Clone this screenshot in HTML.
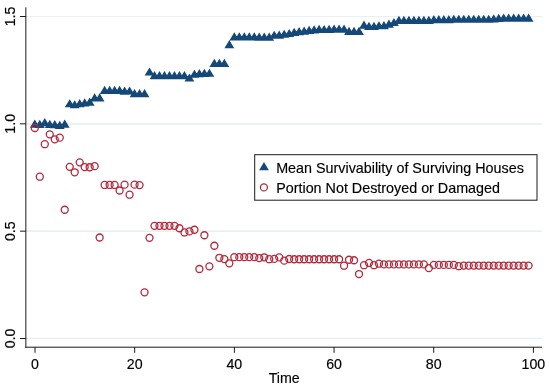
<!DOCTYPE html>
<html><head><meta charset="utf-8"><title>Graph</title>
<style>
html,body{margin:0;padding:0;background:#fff}
svg{display:block}
.t{font-family:"Liberation Sans",Arial,sans-serif;font-size:14.2px;fill:#000;stroke:#000;stroke-width:0.15px}
.lg{font-size:14.33px}
</style></head><body>
<svg width="550" height="389" viewBox="0 0 550 389">
<rect width="550" height="389" fill="#fff"/>
<line x1="26" x2="542" y1="338.50" y2="338.50" stroke="#e8f0f2" stroke-width="1.6"/>
<line x1="26" x2="542" y1="231.17" y2="231.17" stroke="#e8f0f2" stroke-width="1.6"/>
<line x1="26" x2="542" y1="123.83" y2="123.83" stroke="#e8f0f2" stroke-width="1.6"/>
<line x1="26" x2="542" y1="16.50" y2="16.50" stroke="#e8f0f2" stroke-width="1.2"/>
<path d="M29.90 127.81L39.70 127.81L34.80 119.61ZM34.89 127.92L44.69 127.92L39.79 119.72ZM39.88 126.31L49.68 126.31L44.78 118.11ZM44.86 128.03L54.66 128.03L49.76 119.83ZM49.85 128.24L59.65 128.24L54.75 120.04ZM54.84 128.99L64.64 128.99L59.74 120.79ZM59.83 127.71L69.63 127.71L64.73 119.51ZM64.82 107.33L74.62 107.33L69.72 99.13ZM69.80 108.33L79.60 108.33L74.70 100.13ZM74.79 107.13L84.59 107.13L79.69 98.93ZM79.78 106.54L89.58 106.54L84.68 98.34ZM84.77 105.74L94.57 105.74L89.67 97.54ZM89.76 101.44L99.56 101.44L94.66 93.24ZM94.74 101.44L104.54 101.44L99.64 93.24ZM99.73 94.07L109.53 94.07L104.63 85.87ZM104.72 94.07L114.52 94.07L109.62 85.87ZM109.71 94.07L119.51 94.07L114.61 85.87ZM114.70 94.07L124.50 94.07L119.60 85.87ZM119.68 94.77L129.48 94.77L124.58 86.57ZM124.67 94.62L134.47 94.62L129.57 86.42ZM129.66 97.29L139.46 97.29L134.56 89.09ZM134.65 97.29L144.45 97.29L139.55 89.09ZM139.64 97.29L149.44 97.29L144.54 89.09ZM144.62 75.58L154.42 75.58L149.52 67.38ZM149.61 79.27L159.41 79.27L154.51 71.07ZM154.60 79.27L164.40 79.27L159.50 71.07ZM159.59 79.27L169.39 79.27L164.49 71.07ZM164.58 79.27L174.38 79.27L169.48 71.07ZM169.56 79.27L179.36 79.27L174.46 71.07ZM174.55 79.27L184.35 79.27L179.45 71.07ZM179.54 79.27L189.34 79.27L184.44 71.07ZM184.53 81.60L194.33 81.60L189.43 73.40ZM189.52 77.84L199.32 77.84L194.42 69.64ZM194.50 77.14L204.30 77.14L199.40 68.94ZM199.49 76.94L209.29 76.94L204.39 68.74ZM204.48 76.84L214.28 76.84L209.38 68.64ZM209.47 67.01L219.27 67.01L214.37 58.81ZM214.46 67.01L224.26 67.01L219.36 58.81ZM219.44 67.01L229.24 67.01L224.34 58.81ZM224.43 48.30L234.23 48.30L229.33 40.10ZM229.42 40.39L239.22 40.39L234.32 32.19ZM234.41 40.39L244.21 40.39L239.31 32.19ZM239.40 40.39L249.20 40.39L244.30 32.19ZM244.38 40.39L254.18 40.39L249.28 32.19ZM249.37 40.39L259.17 40.39L254.27 32.19ZM254.36 40.82L264.16 40.82L259.26 32.62ZM259.35 40.82L269.15 40.82L264.25 32.62ZM264.34 40.74L274.14 40.74L269.24 32.54ZM269.32 38.86L279.12 38.86L274.22 30.66ZM274.31 38.66L284.11 38.66L279.21 30.46ZM279.30 37.84L289.10 37.84L284.20 29.64ZM284.29 37.09L294.09 37.09L289.19 28.89ZM289.28 35.90L299.08 35.90L294.18 27.70ZM294.26 35.25L304.06 35.25L299.16 27.05ZM299.25 34.71L309.05 34.71L304.15 26.51ZM304.24 33.93L314.04 33.93L309.14 25.73ZM309.23 33.49L319.03 33.49L314.13 25.29ZM314.22 33.06L324.02 33.06L319.12 24.86ZM319.20 33.09L329.00 33.09L324.10 24.89ZM324.19 32.91L333.99 32.91L329.09 24.71ZM329.18 32.80L338.98 32.80L334.08 24.60ZM334.17 32.68L343.97 32.68L339.07 24.48ZM339.16 32.67L348.96 32.67L344.06 24.47ZM344.14 34.95L353.94 34.95L349.04 26.75ZM349.13 34.95L358.93 34.95L354.03 26.75ZM354.12 34.95L363.92 34.95L359.02 26.75ZM359.11 28.74L368.91 28.74L364.01 20.54ZM364.10 29.97L373.90 29.97L369.00 21.77ZM369.08 30.07L378.88 30.07L373.98 21.87ZM374.07 29.37L383.87 29.37L378.97 21.17ZM379.06 29.17L388.86 29.17L383.96 20.97ZM384.05 27.76L393.85 27.76L388.95 19.56ZM389.04 26.09L398.84 26.09L393.94 17.89ZM394.02 23.94L403.82 23.94L398.92 15.74ZM399.01 23.94L408.81 23.94L403.91 15.74ZM404.00 23.94L413.80 23.94L408.90 15.74ZM408.99 23.94L418.79 23.94L413.89 15.74ZM413.98 23.94L423.78 23.94L418.88 15.74ZM418.96 23.94L428.76 23.94L423.86 15.74ZM423.95 23.94L433.75 23.94L428.85 15.74ZM428.94 23.25L438.74 23.25L433.84 15.05ZM433.93 23.25L443.73 23.25L438.83 15.05ZM438.92 23.25L448.72 23.25L443.82 15.05ZM443.90 23.25L453.70 23.25L448.80 15.05ZM448.89 22.85L458.69 22.85L453.79 14.65ZM453.88 22.85L463.68 22.85L458.78 14.65ZM458.87 22.85L468.67 22.85L463.77 14.65ZM463.86 22.85L473.66 22.85L468.76 14.65ZM468.84 22.85L478.64 22.85L473.74 14.65ZM473.83 22.85L483.63 22.85L478.73 14.65ZM478.82 22.85L488.62 22.85L483.72 14.65ZM483.81 22.85L493.61 22.85L488.71 14.65ZM488.80 22.45L498.60 22.45L493.70 14.25ZM493.78 21.95L503.58 21.95L498.68 13.75ZM498.77 21.76L508.57 21.76L503.67 13.56ZM503.76 21.76L513.56 21.76L508.66 13.56ZM508.75 21.76L518.55 21.76L513.65 13.56ZM513.74 21.76L523.54 21.76L518.64 13.56ZM518.72 21.76L528.52 21.76L523.62 13.56ZM523.71 21.76L533.51 21.76L528.61 13.56Z" fill="#144878"/>
<circle cx="34.80" cy="128.00" r="3.5" fill="none" stroke="#b3283a" stroke-width="1.3"/>
<circle cx="39.79" cy="176.70" r="3.5" fill="none" stroke="#b3283a" stroke-width="1.3"/>
<circle cx="44.78" cy="144.20" r="3.5" fill="none" stroke="#b3283a" stroke-width="1.3"/>
<circle cx="49.76" cy="134.33" r="3.5" fill="none" stroke="#b3283a" stroke-width="1.3"/>
<circle cx="54.75" cy="139.37" r="3.5" fill="none" stroke="#b3283a" stroke-width="1.3"/>
<circle cx="59.74" cy="137.66" r="3.5" fill="none" stroke="#b3283a" stroke-width="1.3"/>
<circle cx="64.73" cy="209.73" r="3.5" fill="none" stroke="#b3283a" stroke-width="1.3"/>
<circle cx="69.72" cy="166.83" r="3.5" fill="none" stroke="#b3283a" stroke-width="1.3"/>
<circle cx="74.70" cy="172.30" r="3.5" fill="none" stroke="#b3283a" stroke-width="1.3"/>
<circle cx="79.69" cy="162.32" r="3.5" fill="none" stroke="#b3283a" stroke-width="1.3"/>
<circle cx="84.68" cy="167.04" r="3.5" fill="none" stroke="#b3283a" stroke-width="1.3"/>
<circle cx="89.67" cy="167.26" r="3.5" fill="none" stroke="#b3283a" stroke-width="1.3"/>
<circle cx="94.66" cy="166.19" r="3.5" fill="none" stroke="#b3283a" stroke-width="1.3"/>
<circle cx="99.64" cy="237.51" r="3.5" fill="none" stroke="#b3283a" stroke-width="1.3"/>
<circle cx="104.63" cy="184.95" r="3.5" fill="none" stroke="#b3283a" stroke-width="1.3"/>
<circle cx="109.62" cy="184.95" r="3.5" fill="none" stroke="#b3283a" stroke-width="1.3"/>
<circle cx="114.61" cy="184.95" r="3.5" fill="none" stroke="#b3283a" stroke-width="1.3"/>
<circle cx="119.60" cy="190.51" r="3.5" fill="none" stroke="#b3283a" stroke-width="1.3"/>
<circle cx="124.58" cy="184.63" r="3.5" fill="none" stroke="#b3283a" stroke-width="1.3"/>
<circle cx="129.57" cy="194.71" r="3.5" fill="none" stroke="#b3283a" stroke-width="1.3"/>
<circle cx="134.56" cy="184.63" r="3.5" fill="none" stroke="#b3283a" stroke-width="1.3"/>
<circle cx="139.55" cy="185.06" r="3.5" fill="none" stroke="#b3283a" stroke-width="1.3"/>
<circle cx="144.54" cy="292.31" r="3.5" fill="none" stroke="#b3283a" stroke-width="1.3"/>
<circle cx="149.52" cy="237.83" r="3.5" fill="none" stroke="#b3283a" stroke-width="1.3"/>
<circle cx="154.51" cy="225.82" r="3.5" fill="none" stroke="#b3283a" stroke-width="1.3"/>
<circle cx="159.50" cy="225.82" r="3.5" fill="none" stroke="#b3283a" stroke-width="1.3"/>
<circle cx="164.49" cy="225.82" r="3.5" fill="none" stroke="#b3283a" stroke-width="1.3"/>
<circle cx="169.48" cy="225.82" r="3.5" fill="none" stroke="#b3283a" stroke-width="1.3"/>
<circle cx="174.46" cy="225.82" r="3.5" fill="none" stroke="#b3283a" stroke-width="1.3"/>
<circle cx="179.45" cy="228.26" r="3.5" fill="none" stroke="#b3283a" stroke-width="1.3"/>
<circle cx="184.44" cy="232.47" r="3.5" fill="none" stroke="#b3283a" stroke-width="1.3"/>
<circle cx="189.43" cy="231.38" r="3.5" fill="none" stroke="#b3283a" stroke-width="1.3"/>
<circle cx="194.42" cy="229.75" r="3.5" fill="none" stroke="#b3283a" stroke-width="1.3"/>
<circle cx="199.40" cy="269.00" r="3.5" fill="none" stroke="#b3283a" stroke-width="1.3"/>
<circle cx="204.39" cy="235.25" r="3.5" fill="none" stroke="#b3283a" stroke-width="1.3"/>
<circle cx="209.38" cy="266.36" r="3.5" fill="none" stroke="#b3283a" stroke-width="1.3"/>
<circle cx="214.37" cy="245.76" r="3.5" fill="none" stroke="#b3283a" stroke-width="1.3"/>
<circle cx="219.36" cy="257.78" r="3.5" fill="none" stroke="#b3283a" stroke-width="1.3"/>
<circle cx="224.34" cy="259.06" r="3.5" fill="none" stroke="#b3283a" stroke-width="1.3"/>
<circle cx="229.33" cy="263.35" r="3.5" fill="none" stroke="#b3283a" stroke-width="1.3"/>
<circle cx="234.32" cy="257.14" r="3.5" fill="none" stroke="#b3283a" stroke-width="1.3"/>
<circle cx="239.31" cy="257.14" r="3.5" fill="none" stroke="#b3283a" stroke-width="1.3"/>
<circle cx="244.30" cy="257.14" r="3.5" fill="none" stroke="#b3283a" stroke-width="1.3"/>
<circle cx="249.28" cy="257.14" r="3.5" fill="none" stroke="#b3283a" stroke-width="1.3"/>
<circle cx="254.27" cy="257.14" r="3.5" fill="none" stroke="#b3283a" stroke-width="1.3"/>
<circle cx="259.26" cy="258.08" r="3.5" fill="none" stroke="#b3283a" stroke-width="1.3"/>
<circle cx="264.25" cy="257.29" r="3.5" fill="none" stroke="#b3283a" stroke-width="1.3"/>
<circle cx="269.24" cy="259.21" r="3.5" fill="none" stroke="#b3283a" stroke-width="1.3"/>
<circle cx="274.22" cy="258.91" r="3.5" fill="none" stroke="#b3283a" stroke-width="1.3"/>
<circle cx="279.21" cy="257.41" r="3.5" fill="none" stroke="#b3283a" stroke-width="1.3"/>
<circle cx="284.20" cy="260.66" r="3.5" fill="none" stroke="#b3283a" stroke-width="1.3"/>
<circle cx="289.19" cy="259.01" r="3.5" fill="none" stroke="#b3283a" stroke-width="1.3"/>
<circle cx="294.18" cy="259.25" r="3.5" fill="none" stroke="#b3283a" stroke-width="1.3"/>
<circle cx="299.16" cy="259.25" r="3.5" fill="none" stroke="#b3283a" stroke-width="1.3"/>
<circle cx="304.15" cy="259.25" r="3.5" fill="none" stroke="#b3283a" stroke-width="1.3"/>
<circle cx="309.14" cy="259.25" r="3.5" fill="none" stroke="#b3283a" stroke-width="1.3"/>
<circle cx="314.13" cy="259.25" r="3.5" fill="none" stroke="#b3283a" stroke-width="1.3"/>
<circle cx="319.12" cy="259.25" r="3.5" fill="none" stroke="#b3283a" stroke-width="1.3"/>
<circle cx="324.10" cy="259.25" r="3.5" fill="none" stroke="#b3283a" stroke-width="1.3"/>
<circle cx="329.09" cy="259.25" r="3.5" fill="none" stroke="#b3283a" stroke-width="1.3"/>
<circle cx="334.08" cy="259.25" r="3.5" fill="none" stroke="#b3283a" stroke-width="1.3"/>
<circle cx="339.07" cy="259.25" r="3.5" fill="none" stroke="#b3283a" stroke-width="1.3"/>
<circle cx="344.06" cy="265.71" r="3.5" fill="none" stroke="#b3283a" stroke-width="1.3"/>
<circle cx="349.04" cy="259.76" r="3.5" fill="none" stroke="#b3283a" stroke-width="1.3"/>
<circle cx="354.03" cy="260.23" r="3.5" fill="none" stroke="#b3283a" stroke-width="1.3"/>
<circle cx="359.02" cy="274.05" r="3.5" fill="none" stroke="#b3283a" stroke-width="1.3"/>
<circle cx="364.01" cy="265.22" r="3.5" fill="none" stroke="#b3283a" stroke-width="1.3"/>
<circle cx="369.00" cy="262.95" r="3.5" fill="none" stroke="#b3283a" stroke-width="1.3"/>
<circle cx="373.98" cy="265.22" r="3.5" fill="none" stroke="#b3283a" stroke-width="1.3"/>
<circle cx="378.97" cy="263.72" r="3.5" fill="none" stroke="#b3283a" stroke-width="1.3"/>
<circle cx="383.96" cy="264.40" r="3.5" fill="none" stroke="#b3283a" stroke-width="1.3"/>
<circle cx="388.95" cy="264.40" r="3.5" fill="none" stroke="#b3283a" stroke-width="1.3"/>
<circle cx="393.94" cy="264.40" r="3.5" fill="none" stroke="#b3283a" stroke-width="1.3"/>
<circle cx="398.92" cy="264.40" r="3.5" fill="none" stroke="#b3283a" stroke-width="1.3"/>
<circle cx="403.91" cy="264.40" r="3.5" fill="none" stroke="#b3283a" stroke-width="1.3"/>
<circle cx="408.90" cy="264.40" r="3.5" fill="none" stroke="#b3283a" stroke-width="1.3"/>
<circle cx="413.89" cy="264.40" r="3.5" fill="none" stroke="#b3283a" stroke-width="1.3"/>
<circle cx="418.88" cy="264.40" r="3.5" fill="none" stroke="#b3283a" stroke-width="1.3"/>
<circle cx="423.86" cy="264.40" r="3.5" fill="none" stroke="#b3283a" stroke-width="1.3"/>
<circle cx="428.85" cy="268.07" r="3.5" fill="none" stroke="#b3283a" stroke-width="1.3"/>
<circle cx="433.84" cy="264.90" r="3.5" fill="none" stroke="#b3283a" stroke-width="1.3"/>
<circle cx="438.83" cy="264.90" r="3.5" fill="none" stroke="#b3283a" stroke-width="1.3"/>
<circle cx="443.82" cy="264.90" r="3.5" fill="none" stroke="#b3283a" stroke-width="1.3"/>
<circle cx="448.80" cy="264.90" r="3.5" fill="none" stroke="#b3283a" stroke-width="1.3"/>
<circle cx="453.79" cy="264.90" r="3.5" fill="none" stroke="#b3283a" stroke-width="1.3"/>
<circle cx="458.78" cy="266.21" r="3.5" fill="none" stroke="#b3283a" stroke-width="1.3"/>
<circle cx="463.77" cy="265.59" r="3.5" fill="none" stroke="#b3283a" stroke-width="1.3"/>
<circle cx="468.76" cy="265.59" r="3.5" fill="none" stroke="#b3283a" stroke-width="1.3"/>
<circle cx="473.74" cy="265.59" r="3.5" fill="none" stroke="#b3283a" stroke-width="1.3"/>
<circle cx="478.73" cy="265.59" r="3.5" fill="none" stroke="#b3283a" stroke-width="1.3"/>
<circle cx="483.72" cy="265.59" r="3.5" fill="none" stroke="#b3283a" stroke-width="1.3"/>
<circle cx="488.71" cy="265.59" r="3.5" fill="none" stroke="#b3283a" stroke-width="1.3"/>
<circle cx="493.70" cy="265.59" r="3.5" fill="none" stroke="#b3283a" stroke-width="1.3"/>
<circle cx="498.68" cy="265.59" r="3.5" fill="none" stroke="#b3283a" stroke-width="1.3"/>
<circle cx="503.67" cy="265.59" r="3.5" fill="none" stroke="#b3283a" stroke-width="1.3"/>
<circle cx="508.66" cy="265.59" r="3.5" fill="none" stroke="#b3283a" stroke-width="1.3"/>
<circle cx="513.65" cy="265.59" r="3.5" fill="none" stroke="#b3283a" stroke-width="1.3"/>
<circle cx="518.64" cy="265.59" r="3.5" fill="none" stroke="#b3283a" stroke-width="1.3"/>
<circle cx="523.62" cy="265.59" r="3.5" fill="none" stroke="#b3283a" stroke-width="1.3"/>
<circle cx="528.61" cy="265.59" r="3.5" fill="none" stroke="#b3283a" stroke-width="1.3"/>
<line x1="25.85" x2="25.85" y1="7.4" y2="347.7" stroke="#1a1a1a" stroke-width="1"/>
<line x1="25.2" x2="542.1" y1="347.2" y2="347.2" stroke="#1a1a1a" stroke-width="1"/>
<line x1="20" x2="26" y1="338.50" y2="338.50" stroke="#1a1a1a" stroke-width="1"/>
<text transform="translate(14.7 338.50) rotate(-90)" text-anchor="middle" class="t">0.0</text>
<line x1="20" x2="26" y1="231.17" y2="231.17" stroke="#1a1a1a" stroke-width="1"/>
<text transform="translate(14.7 231.17) rotate(-90)" text-anchor="middle" class="t">0.5</text>
<line x1="20" x2="26" y1="123.83" y2="123.83" stroke="#1a1a1a" stroke-width="1"/>
<text transform="translate(14.7 123.83) rotate(-90)" text-anchor="middle" class="t">1.0</text>
<line x1="20" x2="26" y1="16.50" y2="16.50" stroke="#1a1a1a" stroke-width="1"/>
<text transform="translate(14.7 16.50) rotate(-90)" text-anchor="middle" class="t">1.5</text>
<line x1="35.00" x2="35.00" y1="347" y2="352.8" stroke="#1a1a1a" stroke-width="1"/>
<text x="35.00" y="369.2" text-anchor="middle" class="t">0</text>
<line x1="134.68" x2="134.68" y1="347" y2="352.8" stroke="#1a1a1a" stroke-width="1"/>
<text x="134.68" y="369.2" text-anchor="middle" class="t">20</text>
<line x1="234.36" x2="234.36" y1="347" y2="352.8" stroke="#1a1a1a" stroke-width="1"/>
<text x="234.36" y="369.2" text-anchor="middle" class="t">40</text>
<line x1="334.04" x2="334.04" y1="347" y2="352.8" stroke="#1a1a1a" stroke-width="1"/>
<text x="334.04" y="369.2" text-anchor="middle" class="t">60</text>
<line x1="433.72" x2="433.72" y1="347" y2="352.8" stroke="#1a1a1a" stroke-width="1"/>
<text x="433.72" y="369.2" text-anchor="middle" class="t">80</text>
<line x1="533.40" x2="533.40" y1="347" y2="352.8" stroke="#1a1a1a" stroke-width="1"/>
<text x="533.40" y="369.2" text-anchor="middle" class="t">100</text>
<text x="284.2" y="382.9" text-anchor="middle" class="t">Time</text>
<rect x="254.7" y="154.7" width="282.3" height="45.5" fill="#fff" stroke="#1a1a1a" stroke-width="1"/>
<path d="M259.10 170.30L268.90 170.30L264.00 162.10Z" fill="#144878"/>
<circle cx="263.9" cy="187.4" r="3.5" fill="none" stroke="#b3283a" stroke-width="1.3"/>
<text x="276.2" y="172.6" class="t lg" id="l1">Mean Survivability of Surviving Houses</text>
<text x="276.2" y="192.8" class="t lg" id="l2">Portion Not Destroyed or Damaged</text>
</svg>
</body></html>
